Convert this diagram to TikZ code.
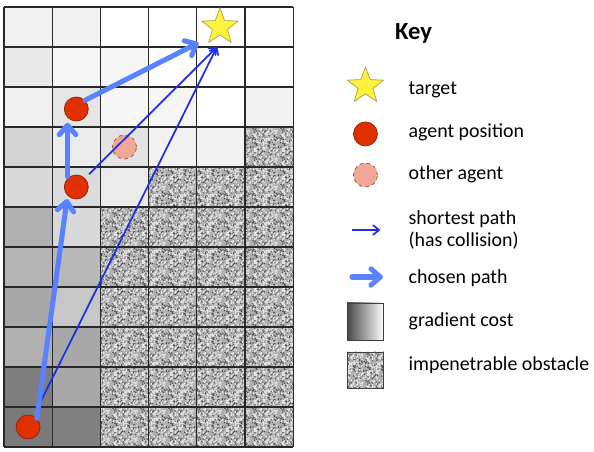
\documentclass[tikz,border=0pt]{standalone}
\usepackage{fontspec}
\setmainfont{Carlito}
\usepackage{tikz}
\usetikzlibrary{shapes.geometric, arrows.meta, positioning, calc, patterns}
\definecolor{chosenblue}{RGB}{88, 130, 255}
\definecolor{shortblue}{RGB}{30, 45, 230}
\definecolor{agentred}{RGB}{224, 48, 0}
\definecolor{agentedge}{RGB}{150, 30, 10}
\definecolor{otherpink}{RGB}{240, 168, 150}
\definecolor{otheredge}{RGB}{170, 70, 50}
\definecolor{staryellow}{RGB}{255, 242, 60}
\definecolor{staredge}{RGB}{170, 160, 70}
\definecolor{gridline}{RGB}{40, 40, 40}

% speckle tiles for the obstacle texture
\pgfmathsetseed{7}
\pgfdeclarepatternformonly{speckledark}{\pgfqpoint{0pt}{0pt}}{\pgfqpoint{24pt}{24pt}}{\pgfqpoint{24pt}{24pt}}{%
  \foreach \k in {1,...,130}{%
    \pgfmathsetmacro\sx{24*rnd}\pgfmathsetmacro\sy{24*rnd}%
    \pgfpathcircle{\pgfqpoint{\sx pt}{\sy pt}}{0.7pt}\pgfusepath{fill}}}
\pgfdeclarepatternformonly{specklelight}{\pgfqpoint{0pt}{0pt}}{\pgfqpoint{24pt}{24pt}}{\pgfqpoint{24pt}{24pt}}{%
  \foreach \k in {1,...,120}{%
    \pgfmathsetmacro\sx{24*rnd}\pgfmathsetmacro\sy{24*rnd}%
    \pgfpathcircle{\pgfqpoint{\sx pt}{\sy pt}}{0.85pt}\pgfusepath{fill}}}

\begin{document}
\begin{tikzpicture}[
    x=1.446cm, y=1.2cm,
    agent/.style={circle, fill=agentred, draw=agentedge, line width=0.6pt, minimum size=0.72cm, inner sep=0pt},
    otheragent/.style={circle, fill=otherpink, draw=otheredge, dashed, line width=0.6pt, minimum size=0.72cm, inner sep=0pt},
    goalstar/.style={star, star points=5, star point ratio=2.4, fill=staryellow, draw=staredge, line width=0.6pt, minimum size=1.14cm, inner sep=0pt},
    shortest/.style={-{Straight Barb[length=5pt, width=8pt, round]}, shortblue, line width=1.5pt},
    chosen/.style={-{Straight Barb[length=8pt, width=14pt, round]}, chosenblue, line width=4.3pt, line cap=round},
    obstacle/.style={fill=gray!62, postaction={pattern=speckledark, pattern color=black!70}, postaction={pattern=specklelight, pattern color=white!82!gray}},
    keytext/.style={anchor=base west, inner sep=0pt, font=\fontsize{17}{19.4}\selectfont}
]
    \useasboundingbox (-0.083,-0.125) rectangle (12.241,11.175);

    % Cost shading of the free cells (column/row/darkness)
    \foreach \c/\r/\g in {0/0/52, 1/0/50, 0/1/51, 1/1/34, 0/2/31, 1/2/34, 0/3/34, 1/3/22,
                          0/4/29, 1/4/28, 0/5/31, 1/5/15, 0/6/15, 1/6/14, 2/6/8,
                          0/7/17, 1/7/8, 2/7/11, 3/7/5, 4/7/5, 0/8/6, 1/8/10, 2/8/3, 3/8/4, 5/8/5,
                          0/9/9, 1/9/4, 2/9/4, 0/10/5, 1/10/5}
        \fill[black!\g] (\c,\r) rectangle ++(1,1);

    % Obstacle block
    \fill[obstacle] (2,0) -- (6,0) -- (6,8) -- (5,8) -- (5,7) -- (3,7) -- (3,6) -- (2,6) -- cycle;

    % Grid
    \draw[gridline, line width=1pt, step=1] (0,0) grid (6,11);

    % Agents and target
    \node[agent] (start) at (0.5,0.5) {};
    \node[agent] (mid) at (1.5,6.5) {};
    \node[agent] (upper) at (1.5,8.45) {};
    \node[otheragent] (other) at (2.5,7.5) {};
    \node[goalstar] (goal) at (4.48,10.5) {};
    \coordinate (hit) at ([xshift=-0.09cm, yshift=-0.6cm]goal.center);

    % Shortest paths
    \draw[shortest, shorten <=0.5cm] (start) -- (hit);
    \draw[shortest, shorten <=0.17cm] (mid) -- (hit);

    % Chosen path
    \draw[chosen, shorten >=0.1cm] (start.north east) -- (mid.south west);
    \draw[chosen, shorten <=0.05cm, shorten >=0.15cm] (mid.north west) -- (upper.south west);
    \draw[chosen, shorten >=0.38cm] (upper.north east) -- (goal.south west);

    % Key
    \node[keytext, font=\bfseries\fontsize{21}{24}\selectfont] (keytitle) at (8.11,10.175) {Key};
    \node[goalstar] (keystar) at (7.5,9.025) {};
    \node[keytext] (keytarget) at (8.39,8.8) {target};
    \node[agent] (keyagent) at (7.5,7.825) {};
    \node[keytext] (keyagenttext) at (8.39,7.725) {agent position};
    \node[otheragent] (keyother) at (7.5,6.8) {};
    \node[keytext] (keyothertext) at (8.39,6.675) {other agent};
    \coordinate (shortfrom) at (7.22,5.425);
    \coordinate (shortto) at (7.80,5.425);
    \draw[shortest] (shortfrom) -- (shortto);
    \node[keytext, anchor=west, align=left] (keyshort) at (8.39,5.425) {shortest path\\(has collision)};
    \coordinate (chosenfrom) at (7.22,4.25);
    \coordinate (chosento) at (7.86,4.25);
    \draw[chosen] (chosenfrom) -- (chosento);
    \node[keytext] (keychosen) at (8.39,4.075) {chosen path};
    \shade[left color=black!72, right color=white, draw=black!75, line width=0.8pt] (7.12,2.675) rectangle (7.88,3.6);
    \node[keytext] (keygrad) at (8.39,3.0) {gradient cost};
    \fill[obstacle] (7.12,1.475) rectangle (7.88,2.375);
    \draw[black!75, line width=0.8pt] (7.12,1.475) rectangle (7.88,2.375);
    \node[keytext] (keyobst) at (8.39,1.91) {impenetrable obstacle};
\end{tikzpicture}
\end{document}
